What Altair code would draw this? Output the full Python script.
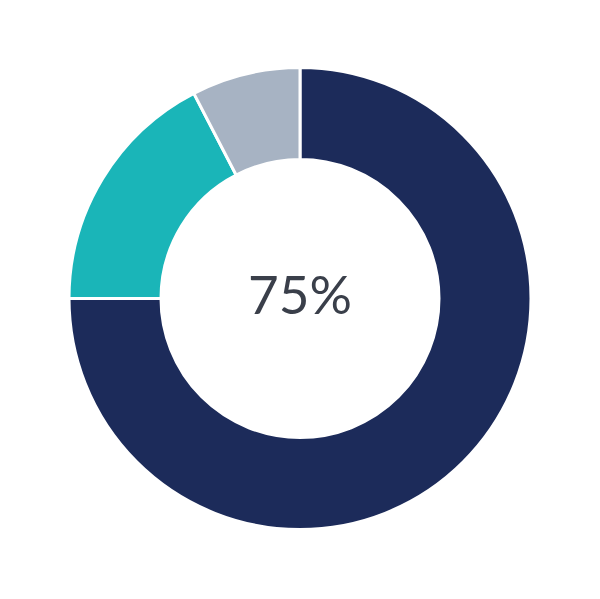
import altair as alt
import pandas as pd

categories = ["A", "B", "C"]
values = [75, 17.4, 7.6]
colors = ["#1c2b5a", "#1ab5b8", "#a7b3c3"]
center_label = ["75%"]

df = pd.DataFrame({"cat": categories, "value": values, "order": [0, 1, 2]})

arc = alt.Chart(df).mark_arc(outerRadius=231, innerRadius=139, stroke="white", strokeWidth=3).encode(
    theta=alt.Theta("value:Q", stack=True),
    order=alt.Order("order:Q"),
    color=alt.Color("cat:N", scale=alt.Scale(domain=categories, range=colors), legend=None),
)

text = alt.Chart(pd.DataFrame({"t": center_label})).mark_text(
    font="Lato", fontSize=53, color="#3a3f4a", baseline="middle", align="center"
).encode(text="t:N", x=alt.value(292), y=alt.value(290))

chart = (arc + text).properties(width=584, height=581, padding=0, autosize="none").configure_view(stroke=None)

chart.save("out.html", embed_options={"renderer": "svg", "actions": False})
